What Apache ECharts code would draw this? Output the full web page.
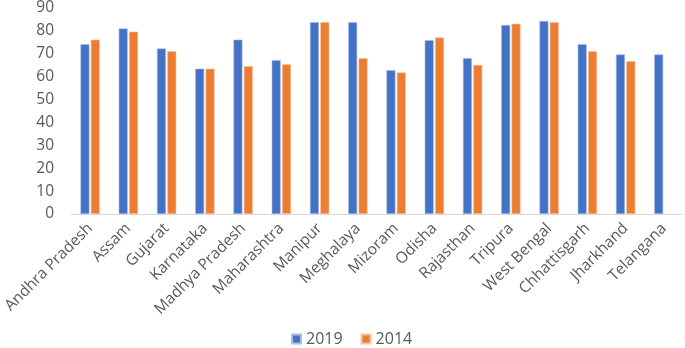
<!DOCTYPE html>
<html>
<head>
<meta charset="utf-8">
<script src="https://cdn.jsdelivr.net/npm/echarts@6/dist/echarts.min.js"></script>
<style>
    html, body { margin: 0; padding: 0; background: #fff; }
    #chart { width: 685px; height: 348px; }
</style>
</head>
<body>
<div id="chart"></div>
<script>
// 州名（横坐标）
var states = ['Andhra Pradesh', 'Assam', 'Gujarat', 'Karnataka', 'Madhya Pradesh', 'Maharashtra',
    'Manipur', 'Meghalaya', 'Mizoram', 'Odisha', 'Rajasthan', 'Tripura', 'West Bengal',
    'Chhattisgarh', 'Jharkhand', 'Telangana'];
var values2019 = [74.2, 81.1, 72.3, 63.5, 76.2, 67.2, 83.8, 83.8, 62.8, 75.9, 68.1, 82.6, 84.3, 74.2, 69.7, 69.7];
var values2014 = [76.2, 79.7, 71.1, 63.5, 64.6, 65.4, 83.8, 68.1, 61.8, 77.1, 65.1, 83.1, 83.8, 71.1, 66.8, null];
var yTicks = { min: 0, max: 90, interval: 10 };

var labelColor = '#595959';
var fontFamily = '"Open Sans", sans-serif';

var chart = echarts.init(document.getElementById('chart'));
var option = {
    animation: false,
    textStyle: { fontFamily: fontFamily },
    legend: {
        left: 291,
        top: 331,
        padding: 0,
        itemWidth: 9,
        itemHeight: 9,
        itemGap: 18,
        icon: 'rect',
        textStyle: { color: labelColor, fontSize: 16, fontFamily: fontFamily },
        data: ['2019', '2014']
    },
    grid: {
        left: 67,
        right: 2,
        top: 7,
        bottom: 134
    },
    xAxis: {
        type: 'category',
        data: states,
        axisLine: { lineStyle: { color: '#d9d9d9', width: 1 } },
        axisTick: { show: false },
        axisLabel: {
            interval: 0,
            rotate: 45,
            margin: 12,
            color: labelColor,
            fontSize: 15.5,
            fontFamily: fontFamily
        }
    },
    yAxis: {
        type: 'value',
        min: yTicks.min,
        max: yTicks.max,
        interval: yTicks.interval,
        axisLine: { show: false },
        axisTick: { show: false },
        splitLine: { show: false },
        axisLabel: { color: labelColor, fontSize: 15.5, margin: 17, fontFamily: fontFamily }
    },
    series: [
        {
            name: '2019',
            type: 'bar',
            data: values2019,
            barWidth: 9,
            barGap: '15%',
            itemStyle: { color: '#4472c4', borderColor: '#a9bde6', borderWidth: 0.6 }
        },
        {
            name: '2014',
            type: 'bar',
            data: values2014,
            barWidth: 9,
            itemStyle: { color: '#ed7d31', borderColor: '#f7c29e', borderWidth: 0.6 }
        }
    ]
};
chart.setOption(option);
</script>
</body>
</html>
